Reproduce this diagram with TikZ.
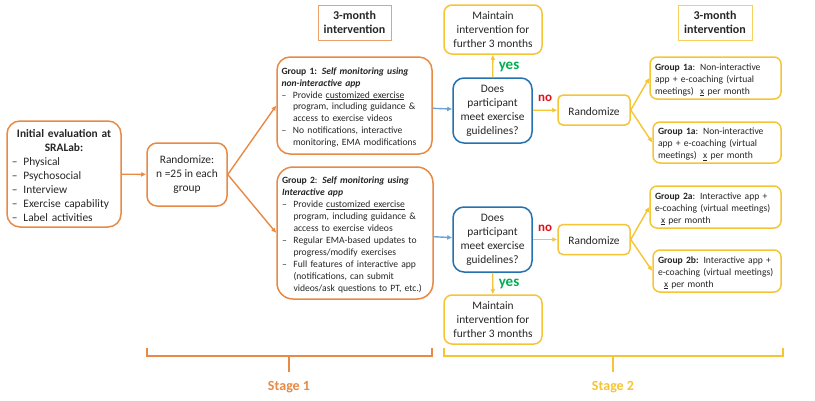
\documentclass[tikz,border=0pt]{standalone}
\usepackage{fontspec}
\setmainfont{Carlito}
\usetikzlibrary{arrows.meta}
\definecolor{orng}{HTML}{E88A45}
\definecolor{yell}{HTML}{F5C535}
\definecolor{blu}{HTML}{2472B0}
\definecolor{lblu}{HTML}{6BA3D6}
\definecolor{ink}{HTML}{262626}
\definecolor{yesgreen}{HTML}{00B050}
\definecolor{nored}{HTML}{E0101A}
\newcommand{\bigf}{\fontsize{11.4}{14}\selectfont}
\newcommand{\headf}{\fontsize{12}{14}\selectfont\bfseries}
\newcommand{\smf}{\fontsize{9.6}{11.9}\selectfont}
\newcommand{\dashit}[1]{\makebox[11.5pt][l]{–}#1}
\newcommand{\contit}[1]{\hspace*{11.5pt}#1}
\tikzset{
  x=1pt,y=-1pt,
  basebox/.style={draw,rounded corners=9pt,line width=1.5pt,text=ink,inner ysep=0pt,inner xsep=0pt,
    execute at begin node={\rule{0pt}{10.5pt}\ignorespaces}},
  obox/.style={basebox,draw=orng},
  ybox/.style={basebox,draw=yell},
  bbox/.style={basebox,draw=blu,rounded corners=11pt},
  headbox/.style={draw,line width=0.9pt,text=ink,inner sep=0pt,align=center,font=\headf},
  conn/.style={line width=1.4pt,-{Latex[length=5pt,width=5pt]}},
  oconn/.style={conn,draw=orng},
  yconn/.style={conn,draw=yell},
  bconn/.style={conn,draw=lblu},
  brace/.style={line width=1.2pt},
  stage/.style={font=\fontsize{14}{16}\selectfont\bfseries,inner sep=0pt},
  yesans/.style={font=\fontsize{15}{16}\selectfont\bfseries,inner sep=0pt,text=yesgreen},
  noans/.style={font=\fontsize{13}{16}\selectfont\bfseries,inner sep=0pt,text=nored},
}
\begin{document}
\begin{tikzpicture}
\fill[white] (0,0) rectangle (815,400);
\useasboundingbox (0,0) rectangle (815,400);
% Stage 1 column
\node[obox,rounded corners=13pt,minimum width=114pt,minimum height=106pt,text width=104pt,align=left,font=\bigf] (init) at (64,174)
 {\makebox[104pt][c]{\textbf{Initial evaluation at}}\\\makebox[104pt][c]{\textbf{SRALab:}}\\
  \dashit{Physical}\\\dashit{Psychosocial}\\\dashit{Interview}\\\dashit{Exercise capability}\\\dashit{Label activities}};
\node[obox,rounded corners=10pt,minimum width=80pt,minimum height=63pt,align=center,font=\bigf] (rand) at (187,174.5) {Randomize:\\n =25 in each\\group};
\node[headbox,draw=orng!80!white,minimum width=73pt,minimum height=35pt] (headl) at (354.5,22.5) {3-month\\intervention};
\node[obox,rounded corners=13pt,minimum width=155pt,minimum height=97pt,text width=146pt,align=left,font=\smf] (gone) at (354.5,105.5)
 {\textbf{Group 1:} \textbf{\textit{Self monitoring using}}\\\textbf{\textit{non-interactive app}}\\
  \dashit{Provide \underline{customized exercise}}\\\contit{program, including guidance \&}\\\contit{access to exercise videos}\\
  \dashit{No notifications, interactive}\\\contit{monitoring, EMA modifications}};
\node[obox,rounded corners=16pt,minimum width=156pt,minimum height=132pt,text width=146pt,align=left,font=\smf] (gtwo) at (355,233)
 {\textbf{Group 2}: \textbf{\textit{Self monitoring using}}\\\textbf{\textit{Interactive app}}\\
  \dashit{Provide \underline{customized exercise}}\\\contit{program, including guidance \&}\\\contit{access to exercise videos}\\
  \dashit{Regular EMA-based updates to}\\\contit{progress/modify exercises}\\
  \dashit{Full features of interactive app}\\\contit{(notifications, can submit}\\\contit{videos/ask questions to PT, etc.)}};
% Decision column
\node[ybox,rounded corners=8pt,minimum width=98pt,minimum height=49pt,align=center,font=\bigf] (mtop) at (493,29.5) {Maintain\\intervention for\\further 3 months};
\node[bbox,minimum width=79pt,minimum height=65pt,align=center,font=\bigf] (dtop) at (492.5,110.5) {Does\\participant\\meet exercise\\guidelines?};
\node[bbox,minimum width=79pt,minimum height=65pt,align=center,font=\bigf] (dbot) at (492.5,239.5) {Does\\participant\\meet exercise\\guidelines?};
\node[ybox,rounded corners=8pt,minimum width=98pt,minimum height=49pt,align=center,font=\bigf] (mbot) at (493,319.5) {Maintain\\intervention for\\further 3 months};
% Stage 2 column
\node[ybox,minimum width=72pt,minimum height=30pt,font=\bigf,rounded corners=5pt] (rtop) at (594,110) {Randomize};
\node[ybox,minimum width=72pt,minimum height=30pt,font=\bigf,rounded corners=5pt] (rbot) at (594,239.5) {Randomize};
\node[headbox,draw=yell!80!white,minimum width=74pt,minimum height=35pt] (headr) at (715,22.5) {3-month\\intervention};
\node[ybox,minimum width=131pt,minimum height=42pt,text width=121pt,align=left,font=\smf,rounded corners=7pt] (ga) at (715.5,78)
 {\textbf{Group 1a}: Non-interactive\\app + e-coaching (virtual\\meetings)\ \ \underline{x} per month};
\node[ybox,minimum width=128pt,minimum height=41pt,text width=118pt,align=left,font=\smf,rounded corners=7pt] (gb) at (717,142.5)
 {\textbf{Group 1a}: Non-interactive\\app + e-coaching (virtual\\meetings)\ \ \underline{x} per month};
\node[ybox,minimum width=131pt,minimum height=42pt,text width=121pt,align=left,font=\smf,rounded corners=7pt] (gc) at (715.5,207)
 {\textbf{Group 2a}: Interactive app +\\e-coaching (virtual meetings)\\\hspace*{6pt}\underline{x} per month};
\node[ybox,minimum width=128pt,minimum height=42pt,text width=118pt,align=left,font=\smf,rounded corners=7pt] (gd) at (717,271)
 {\textbf{Group 2b:} Interactive app +\\e-coaching (virtual meetings)\\\hspace*{6pt}\underline{x} per month};
% Connectors
\draw[oconn] (init) -- (rand);
\draw[oconn] (rand.east) -- (gone.west);
\draw[oconn] (rand.east) -- (gtwo.west);
\draw[bconn] (gone) -- (dtop);
\draw[bconn] (gtwo) -- (dbot);
\draw[yconn] (dtop) -- (mtop);
\draw[yconn] (dbot) -- (mbot);
\draw[yconn] (dtop) -- (rtop);
\draw[yconn] (dbot) -- (rbot);
\draw[yconn] (rtop.east) -- (ga.west);
\draw[yconn] (rtop.east) -- (gb.west);
\draw[yconn] (rbot.east) -- (gc.west);
\draw[yconn] (rbot.east) -- (gd.west);
% Answers
\node[yesans] (y1) at (509,67) {yes};
\node[yesans] (y2) at (509,284) {yes};
\node[noans] (n1) at (545,98) {no};
\node[noans] (n2) at (545,228) {no};
% Stage brackets
\draw[brace,draw=orng] (147,348) -- (147,356) -- (432,356) -- (432,348);
\draw[brace,draw=orng] (289,356) -- (289,372);
\draw[brace,draw=yell] (444,348) -- (444,356) -- (783,356) -- (783,348);
\draw[brace,draw=yell] (613,356) -- (613,372);
\node[stage,text=orng] (s1) at (289,387) {Stage 1};
\node[stage,text=yell] (s2) at (613,387) {Stage 2};
\end{tikzpicture}
\end{document}
